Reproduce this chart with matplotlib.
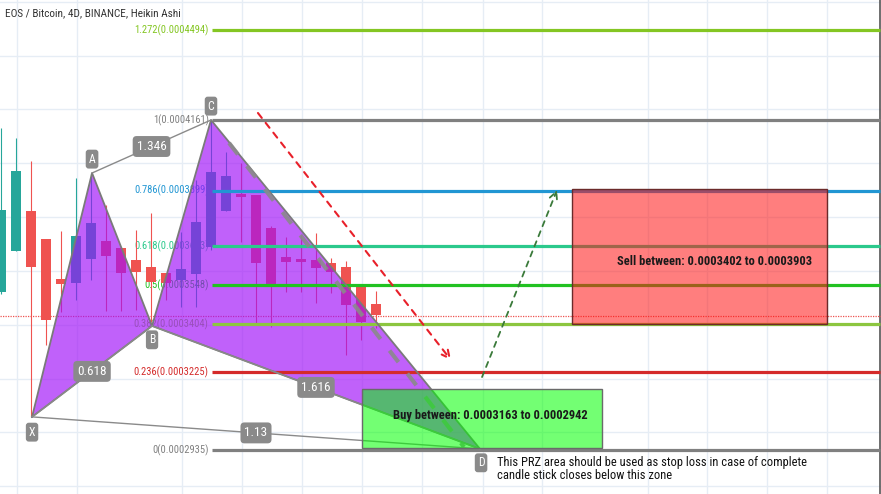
import matplotlib.pyplot as plt
from matplotlib import font_manager
import numpy as np

installed = {f.name for f in font_manager.fontManager.ttflist}
narrow = [n for n in ['Liberation Sans Narrow', 'DejaVu Sans Condensed', 'Roboto Condensed',
                      'Open Sans Condensed'] if n in installed]
plt.rcParams['font.family'] = narrow[:1] + ['Roboto', 'DejaVu Sans']
# shrink a bit when no condensed face is available
fs = 1.0 if narrow else 0.85

# Heikin Ashi candles (index, open, high, low, close)
opens = [0.0003522, 0.0003674, 0.0003823, 0.0003719, 0.0003570, 0.0003555, 0.0003645,
         0.0003711, 0.0003685, 0.0003641, 0.0003615, 0.0003593, 0.0003567, 0.0003589,
         0.0003689, 0.0003823, 0.0003886, 0.0003882, 0.0003760, 0.0003652, 0.0003645,
         0.0003641, 0.0003630, 0.0003615, 0.0003541, 0.0003477]
highs = [0.0004131, 0.0004094, 0.0004009, 0.0003719, 0.0003749, 0.0003945, 0.0003964,
         0.0003845, 0.0003685, 0.0003752, 0.0003815, 0.0003593, 0.0003745, 0.0003938,
         0.0004161, 0.0004042, 0.0004001, 0.0003882, 0.0003767, 0.0003726, 0.0003734,
         0.0003741, 0.0003648, 0.0003637, 0.0003541, 0.0003526]
lows = [0.0003515, 0.0003674, 0.0003058, 0.0003325, 0.0003448, 0.0003492, 0.0003567,
        0.0003451, 0.0003451, 0.0003455, 0.0003411, 0.0003492, 0.0003466, 0.0003466,
        0.0003678, 0.0003823, 0.0003708, 0.0003407, 0.0003392, 0.0003522, 0.0003522,
        0.0003481, 0.0003518, 0.0003288, 0.0003344, 0.0003388]
closes = [0.0003827, 0.0003972, 0.0003615, 0.0003418, 0.0003552, 0.0003730, 0.0003778,
          0.0003656, 0.0003593, 0.0003596, 0.0003559, 0.0003555, 0.0003607, 0.0003782,
          0.0003968, 0.0003953, 0.0003875, 0.0003630, 0.0003544, 0.0003633, 0.0003633,
          0.0003611, 0.0003596, 0.0003474, 0.0003411, 0.0003437]
last_price = 0.0003433

# fibonacci levels
fib_ratios = ['1.272', '1', '0.786', '0.618', '0.5', '0.382', '0.236', '0']
fib_prices = [0.0004494, 0.0004161, 0.0003899, 0.0003693, 0.0003548, 0.0003404, 0.0003225, 0.0002935]
fib_colors = ['#84c623', '#808080', '#2196d3', '#2bc98c', '#22c222', '#8cc63f', '#d42a2a', '#808080']

# XABCD pattern points (bar index, price)
pt_names = ['X', 'A', 'B', 'C', 'D']
pt_x = [2.07, 6.07, 10.07, 14.0, 31.93]
pt_y = [0.0003058, 0.0003964, 0.0003396, 0.0004161, 0.0002939]
ratios = {('X', 'B'): '0.618', ('A', 'C'): '1.346', ('B', 'D'): '1.616', ('X', 'D'): '1.13'}

# zones
buy_zone = (24.07, 40.07, 0.0002942, 0.0003163)
sell_zone = (38.07, 55.07, 0.0003402, 0.0003903)

grid_x = [1.07, 5.07, 12.07, 16.07, 20.07, 24.07, 28.07, 32.13, 36.07, 43.13, 47.07, 51.07, 55.07]

fig = plt.figure(figsize=(8.81, 4.94), dpi=100)
ax = fig.add_axes([0, 0, 1, 1])
ax.set_xlim(-0.0667, 58.667)
ax.set_ylim(0.00027715, 0.00046068)

for gx in grid_x:
    ax.axvline(gx, color='#e6edf5', lw=1, zorder=0)
for gy in np.arange(0.00028, 0.00047, 0.00002):
    ax.axhline(gy, color='#e6edf5', lw=1, zorder=0)
for s in ax.spines.values():
    s.set_visible(False)
ax.set_xticks([])
ax.set_yticks([])
ax.axvline(58.6, color='#555555', lw=1.2)

# candles
for i in range(len(opens)):
    up = closes[i] >= opens[i]
    col = '#26a69a' if up else '#ef5350'
    ax.vlines(i, lows[i], highs[i], color=col, lw=0.8, zorder=2)
    lo, hi = min(opens[i], closes[i]), max(opens[i], closes[i])
    ax.bar(i, hi - lo, bottom=lo, width=0.62, color=col, zorder=2)

ax.axhline(last_price, color='#ef5350', lw=0.9, ls=(0, (1, 1)), zorder=2)

# fib lines and labels
c_x = pt_x[3]
for r, p, c in zip(fib_ratios, fib_prices, fib_colors):
    ax.plot([c_x + 0.05, 58.6], [p, p], color=c, lw=2.3, zorder=4, solid_capstyle='butt')
    ax.text(c_x - 0.15, p, '%s(%.7f)' % (r, p), color=c, fontsize=7.6 * fs,
            ha='right', va='center', zorder=1)

# pattern triangles
P = dict(zip(pt_names, zip(pt_x, pt_y)))
for tri in [('X', 'A', 'B'), ('B', 'C', 'D')]:
    xs = [P[k][0] for k in tri]
    ys = [P[k][1] for k in tri]
    ax.fill(xs, ys, color='#a010f8', alpha=0.66, lw=0, zorder=3)
    ax.plot(xs + [xs[0]], ys + [ys[0]], color='#7a7a7a', lw=1.3, zorder=5)

for (a, b), txt in ratios.items():
    ax.plot([P[a][0], P[b][0]], [P[a][1], P[b][1]], color='#8a8a8a', lw=1, zorder=5)
    mx = (P[a][0] + P[b][0]) / 2
    my = (P[a][1] + P[b][1]) / 2
    ax.text(mx, my, txt, color='white', fontsize=9.5 * fs, ha='center', va='center', zorder=9,
            bbox=dict(boxstyle='round,pad=0.3', fc='#8a8a8a', ec='none'))

offsets = {'X': -11, 'A': 10, 'B': -10, 'C': 10, 'D': -10}
for name in pt_names:
    ax.annotate(name, P[name], xytext=(0.8 if name == 'D' else 0, offsets[name]),
                textcoords='offset points', color='white', fontsize=8.5 * fs,
                ha='center', va='center', zorder=9,
                bbox=dict(boxstyle='round,pad=0.25', fc='#8a8a8a', ec='none'))

# drawings: gray dashed trend, red and green arrows
ax.plot([15.2, 30.87], [0.0004076, 0.0002946], color='#8a8a8a', lw=3, ls=(0, (3.5, 3.5)),
        alpha=0.9, zorder=6)
ax.annotate('', xy=(30.0, 0.0003269), xytext=(17.13, 0.0004187), zorder=6,
            arrowprops=dict(arrowstyle='->', color='#e8202a', lw=1.5, ls=(0, (3, 3)),
                            mutation_scale=14, shrinkA=0, shrinkB=0))
ax.annotate('', xy=(37.07, 0.0003901), xytext=(32.07, 0.0003206), zorder=6,
            arrowprops=dict(arrowstyle='->', color='#3a7a3a', lw=1.3, ls=(0, (3, 3)),
                            mutation_scale=14, shrinkA=0, shrinkB=0))

# zones
x0, x1, y0, y1 = buy_zone
ax.add_patch(plt.Rectangle((x0, y0), x1 - x0, y1 - y0, fc='#00ff00', alpha=0.55,
                           ec='none', zorder=7))
ax.add_patch(plt.Rectangle((x0, y0), x1 - x0, y1 - y0, fc='none', ec='#6a6a6a', lw=1, zorder=7))
ax.text(32.6, 0.0003062, 'Buy between: %.7f to %.7f' % (y1, y0), fontsize=9 * fs,
        fontweight='bold', color='#1a1a1a', ha='center', va='center', zorder=8)

x0, x1, y0, y1 = sell_zone
ax.add_patch(plt.Rectangle((x0, y0), x1 - x0, y1 - y0, fc='#ff1414', alpha=0.55,
                           ec='none', zorder=7))
ax.add_patch(plt.Rectangle((x0, y0), x1 - x0, y1 - y0, fc='none', ec='#6b2a2a', lw=1, zorder=7))
ax.text(47.6, 0.0003635, 'Sell between: %.7f to %.7f' % (y0, y1), fontsize=9 * fs,
        fontweight='bold', color='#1a1a1a', ha='center', va='center', zorder=8)

ax.text(33.07, 0.0002865, 'This PRZ area should be used as stop loss in case of complete\n'
        'candle stick closes below this zone', fontsize=9 * fs, color='#111111',
        ha='left', va='center', linespacing=0.95, zorder=8)

ax.text(5 / 881, 1 - 13 / 494, 'EOS / Bitcoin, 4D, BINANCE, Heikin Ashi', transform=ax.transAxes,
        fontsize=8.1 * fs, color='#333333', ha='left', va='center')

fig.savefig('out.png', dpi=100)
